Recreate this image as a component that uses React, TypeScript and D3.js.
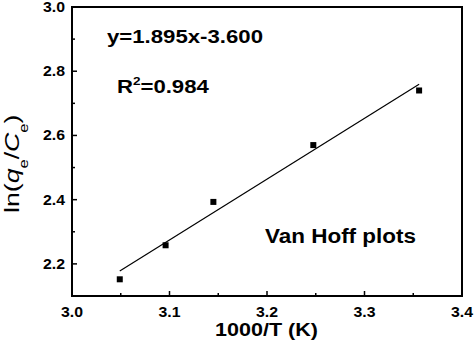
import React from "react";
import * as d3 from "d3";

const xValues = [3.049, 3.096, 3.145, 3.2475, 3.356];
const yValues = [2.152, 2.258, 2.393, 2.570, 2.740];
const fitSlope = 1.895;
const fitIntercept = -3.6;
const xMajorTicks = [3.0, 3.1, 3.2, 3.3, 3.4];
const xMinorTicks = [3.05, 3.15, 3.25, 3.35];
const yMajorTicks = [2.2, 2.4, 2.6, 2.8, 3.0];
const yMinorTicks = [2.3, 2.5, 2.7, 2.9];

const W = 474;
const H = 355;
const FONT = "'Liberation Sans', Arial, Helvetica, sans-serif";

export default function App() {
  const x = d3.scaleLinear().domain([3.0, 3.4]).range([72, 462]);
  const y = d3.scaleLinear().domain([2.1, 3.0]).range([296, 7]);
  const [x0, x1] = [xValues[0], xValues[xValues.length - 1]];
  const line = d3.line<number>()
    .x((d) => x(d))
    .y((d) => y(fitSlope * d + fitIntercept));
  const fitPath = line([x0, x1]) || "";

  return (
    <svg
      width={W}
      height={H}
      style={{ position: "absolute", left: 0, top: 0, background: "#fff" }}
      fontFamily={FONT}
    >
      <rect x={0} y={0} width={W} height={H} fill="#fff" />
      {/* frame */}
      <rect
        x={x.range()[0]}
        y={y.range()[1]}
        width={x.range()[1] - x.range()[0]}
        height={y.range()[0] - y.range()[1]}
        fill="none"
        stroke="#000"
        strokeWidth={2}
      />
      {/* x ticks */}
      {xMajorTicks.map((t) => (
        <g key={"xm" + t}>
          <line x1={x(t)} x2={x(t)} y1={296} y2={291} stroke="#000" strokeWidth={1.5} />
          <text x={x(t)} y={316.5} textAnchor="middle" fontSize={14.5} fontWeight="bold"
            textLength={22} lengthAdjust="spacingAndGlyphs">
            {t.toFixed(1)}
          </text>
        </g>
      ))}
      {xMinorTicks.map((t) => (
        <line key={"xn" + t} x1={x(t)} x2={x(t)} y1={296} y2={293} stroke="#000" strokeWidth={1.5} />
      ))}
      {/* y ticks */}
      {yMajorTicks.map((t) => (
        <g key={"ym" + t}>
          <line x1={72} x2={77} y1={y(t)} y2={y(t)} stroke="#000" strokeWidth={1.5} />
          <text x={65} y={y(t) + 5} textAnchor="end" fontSize={14.5} fontWeight="bold"
            textLength={22} lengthAdjust="spacingAndGlyphs">
            {t.toFixed(1)}
          </text>
        </g>
      ))}
      {yMinorTicks.map((t) => (
        <line key={"yn" + t} x1={72} x2={75} y1={y(t)} y2={y(t)} stroke="#000" strokeWidth={1.5} />
      ))}
      {/* fit line */}
      <path d={fitPath} fill="none" stroke="#000" strokeWidth={1.2} />
      {/* points */}
      {xValues.map((xv, i) => (
        <rect key={"p" + i} x={x(xv) - 3} y={y(yValues[i]) - 3} width={6} height={6} fill="#000" />
      ))}
      {/* annotations */}
      <text x={107} y={43} fontSize={18} fontWeight="bold" textLength={156} lengthAdjust="spacingAndGlyphs">
        y=1.895x-3.600
      </text>
      <g transform="translate(117,92.5) scale(1.23,1)">
        <text x={0} y={0} fontSize={18} fontWeight="bold">
          R<tspan fontSize={11} dy={-8}>2</tspan>
          <tspan dy={8}>=0.984</tspan>
        </text>
      </g>
      <text x={265} y={243} fontSize={20} fontWeight="bold" textLength={151} lengthAdjust="spacingAndGlyphs">
        Van Hoff plots
      </text>
      {/* x label */}
      <text x={215} y={336} fontSize={19} fontWeight="bold" textLength={103} lengthAdjust="spacingAndGlyphs">
        1000/T (K)
      </text>
      {/* y label */}
      <g transform="translate(18.5,213) rotate(-90) scale(1.27,1)">
        <text x={0} y={0} fontSize={21}>
          ln(
          <tspan fontStyle="italic">q</tspan>
          <tspan fontSize={13} dy={9}>e</tspan>
          <tspan dy={-9}>/</tspan>
          <tspan fontStyle="italic">C</tspan>
          <tspan fontSize={13} dy={9}>e</tspan>
          <tspan dy={-9}>)</tspan>
        </text>
      </g>
    </svg>
  );
}
